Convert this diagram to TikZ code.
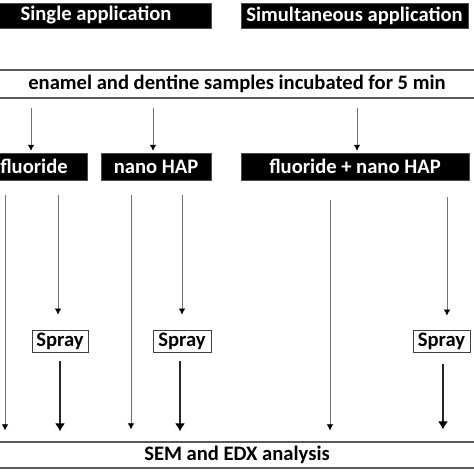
\documentclass[tikz,border=0pt]{standalone}
\usepackage{fontspec}
\setmainfont{Carlito}
\tikzset{
  blackbox/.style={shape=rectangle, fill=black, draw=black!70, text=white,
    font=\fontsize{20.6}{24}\selectfont\bfseries, inner sep=0pt},
  bandbox/.style={shape=rectangle, draw=black!65, line width=1.3pt, fill=white,
    font=\fontsize{20.6}{24}\selectfont\bfseries, inner sep=0pt},
  spraybox/.style={shape=rectangle, draw=black!75, line width=0.9pt, fill=white,
    font=\fontsize{20.6}{24}\selectfont\bfseries, inner sep=1pt},
  thinarr/.style={-{Latex[length=6pt,width=6.5pt,color=black]}, draw=black!55, line width=0.7pt},
  thickarr/.style={-{Latex[length=8pt,width=10pt,color=black]}, draw=black!85, line width=1.1pt},
}
\usetikzlibrary{arrows.meta}
\begin{document}
\begin{tikzpicture}[x=1pt, y=-1pt]
          \useasboundingbox (0,0) rectangle (474,474);
          % nodes
          \node[blackbox, minimum width=230pt, minimum height=25pt] at (96,15.5)
          (single) {Single application};
          \node[blackbox, minimum width=227pt, minimum height=25pt] at (354.5,15.5)
          (simul) {Simultaneous application};
          \node[bandbox, minimum width=484pt, minimum height=28pt] at (237,84)
          (enamel) {enamel and dentine samples incubated for 5 min};
          \node[blackbox, minimum width=106pt, minimum height=27pt] at (34,166.5)
          (fluor) {fluoride};
          \node[blackbox, minimum width=110pt, minimum height=27pt] at (156,166.5)
          (nano) {nano HAP};
          \node[blackbox, minimum width=228pt, minimum height=27pt] at (355,166.5)
          (both) {fluoride + nano HAP};
          \node[spraybox, minimum width=56pt, minimum height=22pt] at (60,341)
          (sprayA) {Spray};
          \node[spraybox, minimum width=58pt, minimum height=22pt] at (182,341)
          (sprayB) {Spray};
          \node[spraybox, minimum width=57pt, minimum height=22pt] at (441.5,341)
          (sprayC) {Spray};
          \node[bandbox, minimum width=484pt, minimum height=26pt] at (237,455)
          (sem) {SEM and EDX analysis};

          % columns of the arrows
          \coordinate (xa) at (31,0);
          \coordinate (xb) at (153,0);
          \coordinate (xc) at (357,0);
          \coordinate (xd) at (5,0);
          \coordinate (xe) at (131,0);
          \coordinate (xf) at (330,0);
          \coordinate (xg) at (58,0);
          \coordinate (xh) at (182,0);
          \coordinate (xi) at (447,0);
          \coordinate (xj) at (60,0);
          \coordinate (xk) at (180,0);
          \coordinate (xl) at (443,0);

          % arcs
          \draw[thinarr, shorten <=9pt, shorten >=2pt] (enamel.south -| xa) -- (fluor.north -| xa);
          \draw[thinarr, shorten <=9pt, shorten >=2pt] (enamel.south -| xb) -- (nano.north -| xb);
          \draw[thinarr, shorten <=9pt, shorten >=2pt] (enamel.south -| xc) -- (both.north -| xc);
          \draw[thinarr, shorten <=15pt, shorten >=11pt] (fluor.south -| xd) -- (sem.north -| xd);
          \draw[thinarr, shorten <=15pt, shorten >=12pt] (nano.south -| xe) -- (sem.north -| xe);
          \draw[thinarr, shorten <=20pt, shorten >=11pt] (both.south -| xf) -- (sem.north -| xf);
          \draw[thinarr, shorten <=15pt, shorten >=15pt] (fluor.south -| xg) -- (sprayA.north -| xg);
          \draw[thinarr, shorten <=15pt, shorten >=15pt] (nano.south -| xh) -- (sprayB.north -| xh);
          \draw[thinarr, shorten <=17pt, shorten >=14pt] (both.south -| xi) -- (sprayC.north -| xi);
          \draw[thickarr, shorten <=9pt, shorten >=10pt] (sprayA.south -| xj) -- (sem.north -| xj);
          \draw[thickarr, shorten <=9pt, shorten >=10pt] (sprayB.south -| xk) -- (sem.north -| xk);
          \draw[thickarr, shorten <=12pt, shorten >=12pt] (sprayC.south -| xl) -- (sem.north -| xl);
        \end{tikzpicture}
\end{document}
